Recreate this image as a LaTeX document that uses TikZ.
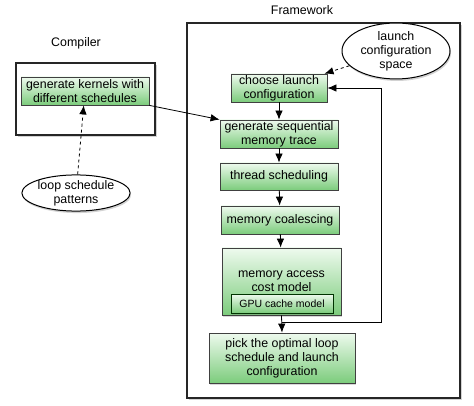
\documentclass[tikz,border=0pt]{standalone}
\usepackage{fontspec}
\setmainfont{Liberation Sans}
\usetikzlibrary{arrows.meta,shapes.geometric,shadows}

\definecolor{boxtop}{RGB}{238,250,238}
\definecolor{boxbot}{RGB}{124,204,124}

\begin{document}
\begin{tikzpicture}[x=1pt, y=-1pt, >={Latex[length=9pt,width=7.5pt]},
  font=\fontsize{12.4}{14}\selectfont,
  frame/.style={draw=black!85, line width=1.1pt, fill=white, drop shadow={shadow xshift=1.5pt, shadow yshift=-2pt, opacity=0.35}},
  box/.style={draw=black!75, line width=0.8pt, top color=boxtop, bottom color=boxbot, align=center, inner sep=1pt, drop shadow={shadow xshift=1pt, shadow yshift=-1.5pt, opacity=0.3}},
  oval/.style={draw=black, line width=1pt, fill=white, ellipse, align=center, inner sep=0pt, drop shadow={shadow xshift=1pt, shadow yshift=-2pt, opacity=0.35}}]
\useasboundingbox (0,0) rectangle (474,406);

% the two frames
\node[frame, minimum width=139pt, minimum height=72pt] (compiler) at (85.5,99) {};
\node (compilerlabel) at (76,43) {Compiler};
\node[frame, minimum width=273pt, minimum height=375pt] (framework) at (323.5,210.5) {};
\node (frameworklabel) at (302,10) {Framework};

% compiler side
\node[box, minimum width=128pt, minimum height=28pt] (kernels) at (85,91) {generate kernels with\\different schedules};
\node[oval, minimum width=108pt, minimum height=36pt] (loop) at (76,193) {loop schedule\\patterns};

% framework side
\node[oval, minimum width=108pt, minimum height=45pt] (space) at (396,51) {launch\\configuration\\space};
\node[box, minimum width=96pt, minimum height=28pt] (choose) at (279,88) {choose launch\\configuration};
\node[box, minimum width=118pt, minimum height=28pt] (trace) at (279,134) {generate sequential\\memory trace};
\node[box, minimum width=118pt, minimum height=27pt] (thread) at (279,176.5) {thread scheduling};
\node[box, minimum width=118pt, minimum height=28pt] (coalesce) at (280,220) {memory coalescing};
\node[box, minimum width=119pt, minimum height=67pt] (cost) at (281.5,281.5) {memory access\\cost model};
\node[box, draw=black!80!green, line width=1pt, minimum width=102pt, minimum height=19pt, font=\fontsize{10.5}{12}\selectfont] (cache) at (282,303.5) {GPU cache model};
\node[box, minimum width=146pt, minimum height=50pt] (pick) at (282,358) {pick the optimal loop\\schedule and launch\\configuration};

\coordinate (join) at (282,322);
\coordinate (back) at (381,322);

% connectors
\draw[->, thick, dashed] (loop) -- (kernels);
\draw[->, thick, dashed] (space) -- (choose);
\draw[->, thick] (kernels.south east) -- (trace.north west);
\draw[->, thick] (choose) -- (trace);
\draw[->, thick] (trace) -- (thread);
\draw[->, thick] (thread) -- (coalesce);
\draw[->, thick] (coalesce) -- (cost);
\draw[->, thick] (cost.south) -- (pick.north);
\draw[->, thick] (join) -- (back) |- (choose.east);
\end{tikzpicture}
\end{document}
